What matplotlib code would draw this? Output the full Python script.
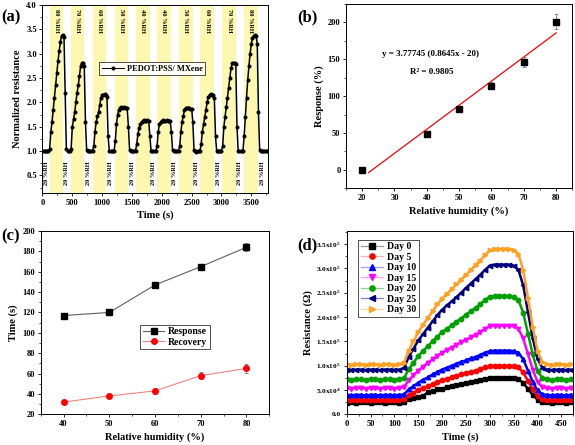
# -*- coding: utf-8 -*-
# Humidity sensing figure: (a) cycling, (b) linear fit, (c) response/recovery, (d) stability
import numpy as np
import matplotlib.pyplot as plt
from matplotlib.lines import Line2D
from matplotlib.ticker import AutoMinorLocator, MultipleLocator, FixedLocator, FixedFormatter

#==============================================================================
#- Data
#==============================================================================
#- (a) normalized resistance, sampled every 20 s
t_a = np.arange(0, 3800, 20)
r_a = [1.0, 1.01, 1.0, 1.0, 1.01, 1.0,
       # 80 %RH
       1.05, 1.4, 1.6, 1.85, 2.1, 2.35, 2.6, 2.85, 3.05, 3.25, 3.37, 3.39, 3.35, 2.2, 1.05, 1.0, 1.01, 1.0,
       # 70 %RH
       1.05, 1.5, 1.65, 1.8, 2.0, 2.2, 2.35, 2.55, 2.75, 2.8, 2.81, 2.75, 1.6, 1.02, 1.0, 1.01, 1.0, 1.0, 1.01,
       # 60 %RH
       1.1, 1.4, 1.6, 1.72, 1.8, 1.95, 2.1, 2.15, 2.16, 2.17, 2.16, 2.12, 1.3, 1.0, 1.01, 1.0, 1.0, 1.01,
       # 50 %RH
       1.2, 1.55, 1.75, 1.85, 1.89, 1.9, 1.89, 1.9, 1.89, 1.89, 1.88, 1.5, 1.02, 1.0, 1.01, 1.0, 1.0, 1.01,
       # 40 %RH
       1.15, 1.35, 1.48, 1.55, 1.6, 1.62, 1.63, 1.62, 1.62, 1.63, 1.62, 1.3, 1.0, 1.01, 1.0, 1.0, 1.01,
       # 40 %RH
       1.1, 1.4, 1.55, 1.6, 1.62, 1.63, 1.62, 1.62, 1.63, 1.62, 1.62, 1.61, 1.4, 1.02, 1.0, 1.01, 1.0, 1.0, 1.01,
       # 50 %RH
       1.1, 1.4, 1.6, 1.72, 1.85, 1.89, 1.89, 1.88, 1.88, 1.87, 1.87, 1.6, 1.02, 1.0, 0.99, 1.0, 1.0, 1.01,
       # 60 %RH
       1.15, 1.4, 1.55, 1.7, 1.85, 2.0, 2.12, 2.16, 2.17, 2.16, 2.16, 2.1, 1.3, 1.0, 1.01, 1.0, 1.0, 1.01,
       # 70 %RH
       1.1, 1.5, 1.7, 1.9, 2.1, 2.3, 2.5, 2.7, 2.8, 2.81, 2.8, 2.78, 1.5, 1.0, 1.01, 1.0, 1.0, 1.01,
       # 80 %RH
       1.3, 1.7, 2.1, 2.45, 2.75, 3.0, 3.2, 3.33, 3.37, 3.38, 3.37, 3.2, 1.8, 1.02, 1.0, 1.01, 1.0, 1.0, 1.01, 1.0, 1.0]
band_start = [122, 473, 846, 1209, 1572, 1916, 2284, 2642, 3010, 3370]
band_end = [344, 696, 1070, 1431, 1794, 2157, 2518, 2881, 3244, 3605]
rh_high = [80, 70, 60, 50, 40, 40, 50, 60, 70, 80]

#- (b) response vs RH
rh_b = [20, 40, 50, 60, 70, 80]
resp_b = [0, 49, 82, 114, 146, 201]
err_b = [1, 3, 4, 5, 7, 10]
fit_k, fit_m, fit_c = 3.77745, 0.8645, 20

#- (c) response / recovery times
rh_c = [40, 50, 60, 70, 80]
t_resp = [117, 120, 147, 165, 184]
e_resp = [2, 2, 3, 3, 4]
t_rec = [32, 38, 43, 58, 65]
e_rec = [2, 2, 3, 3.5, 4]

#- (d) stability, resistance in 1e5 ohm sampled every 10 s
t_d = np.arange(0, 480, 10)
days = ['Day 0', 'Day 5', 'Day 10', 'Day 15', 'Day 20', 'Day 25', 'Day 30']
res_d = [
    [0.24, 0.25, 0.24, 0.25, 0.25, 0.24, 0.25, 0.25, 0.24, 0.25, 0.25, 0.24, 0.25,
     0.31, 0.33, 0.36, 0.38, 0.45, 0.48, 0.51, 0.53, 0.555, 0.575, 0.6, 0.62, 0.64, 0.66, 0.68, 0.7, 0.72, 0.745,
     0.75, 0.75, 0.75, 0.75, 0.745, 0.72, 0.65, 0.52, 0.4, 0.3, 0.26, 0.25, 0.24, 0.25, 0.25, 0.24, 0.25],
    [0.30, 0.29, 0.30, 0.30, 0.29, 0.30, 0.30, 0.29, 0.30, 0.30, 0.29, 0.30, 0.31,
     0.39, 0.44, 0.5, 0.54, 0.58, 0.62, 0.66, 0.7, 0.73, 0.76, 0.79, 0.82, 0.85, 0.87, 0.9, 0.93, 0.965, 0.99,
     1.0, 1.0, 1.0, 1.0, 0.99, 0.965, 0.86, 0.69, 0.51, 0.37, 0.31, 0.30, 0.29, 0.30, 0.30, 0.29, 0.30],
    [0.40, 0.39, 0.40, 0.40, 0.39, 0.40, 0.40, 0.39, 0.40, 0.40, 0.39, 0.40, 0.41,
     0.51, 0.58, 0.65, 0.71, 0.76, 0.82, 0.87, 0.92, 0.96, 1.0, 1.04, 1.08, 1.11, 1.15, 1.18, 1.22, 1.27, 1.3,
     1.31, 1.31, 1.31, 1.31, 1.3, 1.27, 1.13, 0.9, 0.67, 0.49, 0.41, 0.40, 0.39, 0.40, 0.40, 0.39, 0.40],
    [0.54, 0.53, 0.54, 0.54, 0.53, 0.54, 0.54, 0.53, 0.54, 0.54, 0.53, 0.54, 0.56,
     0.7, 0.8, 0.9, 0.98, 1.06, 1.13, 1.2, 1.27, 1.32, 1.37, 1.43, 1.48, 1.53, 1.58, 1.63, 1.69, 1.76, 1.81,
     1.82, 1.82, 1.82, 1.82, 1.81, 1.76, 1.56, 1.24, 0.92, 0.67, 0.56, 0.54, 0.53, 0.54, 0.54, 0.53, 0.54],
    [0.72, 0.71, 0.72, 0.72, 0.71, 0.72, 0.72, 0.71, 0.72, 0.72, 0.71, 0.72, 0.74,
     0.93, 1.06, 1.2, 1.3, 1.4, 1.5, 1.6, 1.69, 1.76, 1.83, 1.9, 1.97, 2.05, 2.12, 2.19, 2.26, 2.35, 2.42,
     2.43, 2.43, 2.43, 2.43, 2.41, 2.35, 2.09, 1.66, 1.23, 0.89, 0.75, 0.72, 0.71, 0.72, 0.72, 0.71, 0.72],
    [0.92, 0.91, 0.92, 0.92, 0.91, 0.92, 0.92, 0.91, 0.92, 0.92, 0.91, 0.92, 0.95,
     1.18, 1.35, 1.52, 1.65, 1.78, 1.91, 2.04, 2.15, 2.24, 2.32, 2.41, 2.5, 2.6, 2.69, 2.78, 2.87, 2.97, 3.06,
     3.08, 3.08, 3.08, 3.08, 3.06, 2.97, 2.65, 2.1, 1.57, 1.14, 0.96, 0.92, 0.91, 0.92, 0.92, 0.91, 0.92],
    [1.03, 1.02, 1.03, 1.03, 1.02, 1.03, 1.03, 1.02, 1.03, 1.03, 1.02, 1.03, 1.06,
     1.31, 1.5, 1.69, 1.84, 1.98, 2.12, 2.26, 2.38, 2.48, 2.57, 2.67, 2.77, 2.87, 2.97, 3.07, 3.16, 3.28, 3.37,
     3.4, 3.4, 3.41, 3.4, 3.38, 3.3, 2.97, 2.4, 1.8, 1.3, 1.08, 1.03, 1.02, 1.03, 1.03, 1.02, 1.03],
]
day_colors = ['#000000', '#ff0000', '#0000ff', '#ff00ff', '#00a000', '#000080', '#ffa020']
day_lines = ['#9a9a9a', '#ffb0b0', '#a0a0ff', '#ffa0ff', '#90d090', '#8080c0', '#ffd8a0']
day_markers = ['s', 'o', '^', 'v', 'o', '<', '>']
ytick_d = [0, 0.5e5, 1.0e5, 1.5e5, 2.0e5, 2.5e5, 3.0e5, 3.5e5]
ylab_d = ['0.0', '5.0x10$^{4}$', '1.0x10$^{5}$', '1.5x10$^{5}$', '2.0x10$^{5}$',
          '2.5x10$^{5}$', '3.0x10$^{5}$', '3.5x10$^{5}$']

#==============================================================================
#- Style
#==============================================================================
plt.rcParams['font.family'] = ['Liberation Serif', 'DejaVu Serif']
plt.rcParams['font.weight'] = 'bold'
plt.rcParams['axes.labelweight'] = 'bold'
plt.rcParams['mathtext.fontset'] = 'custom'
plt.rcParams['mathtext.rm'] = 'Liberation Serif:bold'
plt.rcParams['mathtext.it'] = 'Liberation Serif:bold'
plt.rcParams['mathtext.bf'] = 'Liberation Serif:bold'
plt.rcParams['axes.linewidth'] = 0.7

fs_tick = 6
fs_lab = 7.5
fs_pan = 12


def estilo(ax):
    ax.tick_params(which='major', direction='out', length=2.5, width=0.6, labelsize=fs_tick, pad=1.5)
    ax.tick_params(which='minor', direction='out', length=1.5, width=0.5)
    ax.xaxis.set_minor_locator(AutoMinorLocator(2))
    ax.yaxis.set_minor_locator(AutoMinorLocator(2))


fig = plt.figure(figsize=(5.75, 4.45), dpi=100)
axA = fig.add_axes([0.0739, 0.5663, 0.3922, 0.4225])
axB = fig.add_axes([0.6017, 0.5769, 0.3936, 0.4142])
axC = fig.add_axes([0.0708, 0.0690, 0.3976, 0.4119])
axD = fig.add_axes([0.6030, 0.0690, 0.3940, 0.4119])

#==============================================================================
#- (a)
#==============================================================================
for s, e in zip(band_start, band_end):
    axA.axvspan(s, e, color='#fdf8b0', lw=0, zorder=0)
axA.plot(t_a, r_a, '-', color='k', lw=1.1, marker='o', ms=1.9, label='PEDOT:PSS/ MXene', zorder=3)
gaps_l = [0] + band_end
gaps_r = band_start + [3780]
for s, e, h in zip(band_start, band_end, rh_high):
    axA.text((s + e) / 2, 3.67, '%d %%RH' % h, rotation=270, ha='center', va='center', fontsize=4.6)
for s, e in zip(gaps_l, gaps_r):
    axA.text((s + e) / 2, 0.55, '20 %RH', rotation=90, ha='center', va='center', fontsize=4.6)
axA.set_xlim(0, 3780)
axA.set_ylim(0.14, 4.0)
axA.xaxis.set_major_locator(MultipleLocator(500))
axA.yaxis.set_major_locator(MultipleLocator(0.5))
estilo(axA)
axA.set_xlabel('Time (s)', fontsize=fs_lab, labelpad=3)
axA.set_ylabel('Normalized resistance', fontsize=fs_lab, labelpad=3)
hA = [Line2D([], [], color='k', lw=0.7, marker='o', ms=1.9)]
leg = axA.legend(hA, ['PEDOT:PSS/ MXene'], loc='center', bbox_to_anchor=(0.487, 0.66), fontsize=6,
                 frameon=True, fancybox=False, edgecolor='k', handlelength=2.6, borderpad=0.3,
                 handletextpad=0.4)
leg.get_frame().set_linewidth(0.6)
fig.text(0.003, 0.962, '(a)', fontsize=fs_pan, fontweight='bold', va='center')

#==============================================================================
#- (b)
#==============================================================================
axB.errorbar(rh_b, resp_b, yerr=err_b, fmt='s', color='k', ms=4, ecolor='#808080',
             elinewidth=0.6, capsize=1.5, capthick=0.6, zorder=3)
x_fit = np.array([22, 80])
axB.plot(x_fit, fit_k * (fit_m * x_fit - fit_c), color='r', lw=0.9)
axB.text(41, 157, 'y = 3.77745 (0.8645x - 20)', ha='center', va='center', fontsize=6.5)
axB.text(41.5, 133, 'R² = 0.9805', ha='center', va='center', fontsize=6.5)
axB.set_xlim(15, 85)
axB.set_ylim(-25, 225)
axB.xaxis.set_major_locator(MultipleLocator(10))
axB.yaxis.set_major_locator(MultipleLocator(50))
estilo(axB)
axB.set_xlabel('Relative humidity (%)', fontsize=fs_lab, labelpad=3)
axB.set_ylabel('Response (%)', fontsize=fs_lab, labelpad=3)
fig.text(0.517, 0.962, '(b)', fontsize=fs_pan, fontweight='bold', va='center')

#==============================================================================
#- (c)
#==============================================================================
axC.errorbar(rh_c, t_resp, yerr=e_resp, fmt='-s', color='#606060', mfc='k', mec='k', ms=4,
             lw=0.8, ecolor='#808080', elinewidth=0.6, capsize=1.5, capthick=0.6, label='Response')
axC.errorbar(rh_c, t_rec, yerr=e_rec, fmt='-o', color='#f08080', mfc='r', mec='r', ms=4,
             lw=0.8, ecolor='#808080', elinewidth=0.6, capsize=1.5, capthick=0.6, label='Recovery')
axC.set_xlim(35, 85)
axC.set_ylim(20, 200)
axC.xaxis.set_major_locator(MultipleLocator(10))
axC.yaxis.set_major_locator(MultipleLocator(20))
estilo(axC)
axC.set_xlabel('Relative humidity (%)', fontsize=fs_lab, labelpad=3)
axC.set_ylabel('Time (s)', fontsize=fs_lab, labelpad=3)
hC = [Line2D([], [], color='#606060', lw=0.8, marker='s', mfc='k', mec='k', ms=4),
      Line2D([], [], color='#f08080', lw=0.8, marker='o', mfc='r', mec='r', ms=4)]
legC = axC.legend(hC, ['Response', 'Recovery'], loc='lower left', bbox_to_anchor=(0.415, 0.33),
                  fontsize=7, frameon=True, fancybox=False, edgecolor='k', handlelength=2.2,
                  borderpad=0.25, handletextpad=0.4, labelspacing=0.15)
legC.get_frame().set_linewidth(0.6)
fig.text(0.003, 0.468, '(c)', fontsize=fs_pan, fontweight='bold', va='center')

#==============================================================================
#- (d)
#==============================================================================
hD = []
for nom, serie, c, cl, m in zip(days, res_d, day_colors, day_lines, day_markers):
    y = np.array(serie) * 1e5
    axD.plot(t_d, y, '-', color=c, lw=1.8, solid_capstyle='round')
    axD.plot(t_d, y, ls='none', marker=m, mfc=c, mec=c, ms=3.2)
    hD.append(Line2D([], [], color=cl, lw=0.9, marker=m, mfc=c, mec=c, ms=3.8))
axD.set_xlim(0, 475)
axD.set_ylim(0, 3.77e5)
axD.xaxis.set_major_locator(MultipleLocator(50))
axD.yaxis.set_major_locator(FixedLocator(ytick_d))
axD.yaxis.set_major_formatter(FixedFormatter(ylab_d))
estilo(axD)
axD.tick_params(axis='y', labelsize=5.3)
axD.set_xlabel('Time (s)', fontsize=fs_lab, labelpad=3)
axD.set_ylabel('Resistance (Ω)', fontsize=fs_lab, labelpad=2)
legD = axD.legend(hD, days, loc='upper left', bbox_to_anchor=(0.028, 0.98), fontsize=7, frameon=True,
                  fancybox=False, edgecolor='k', handlelength=2.3, borderpad=0.3,
                  handletextpad=0.4, labelspacing=0.15)
legD.get_frame().set_linewidth(0.6)
fig.text(0.517, 0.449, '(d)', fontsize=fs_pan, fontweight='bold', va='center')

plt.savefig('out.png', dpi=100)
plt.close()
